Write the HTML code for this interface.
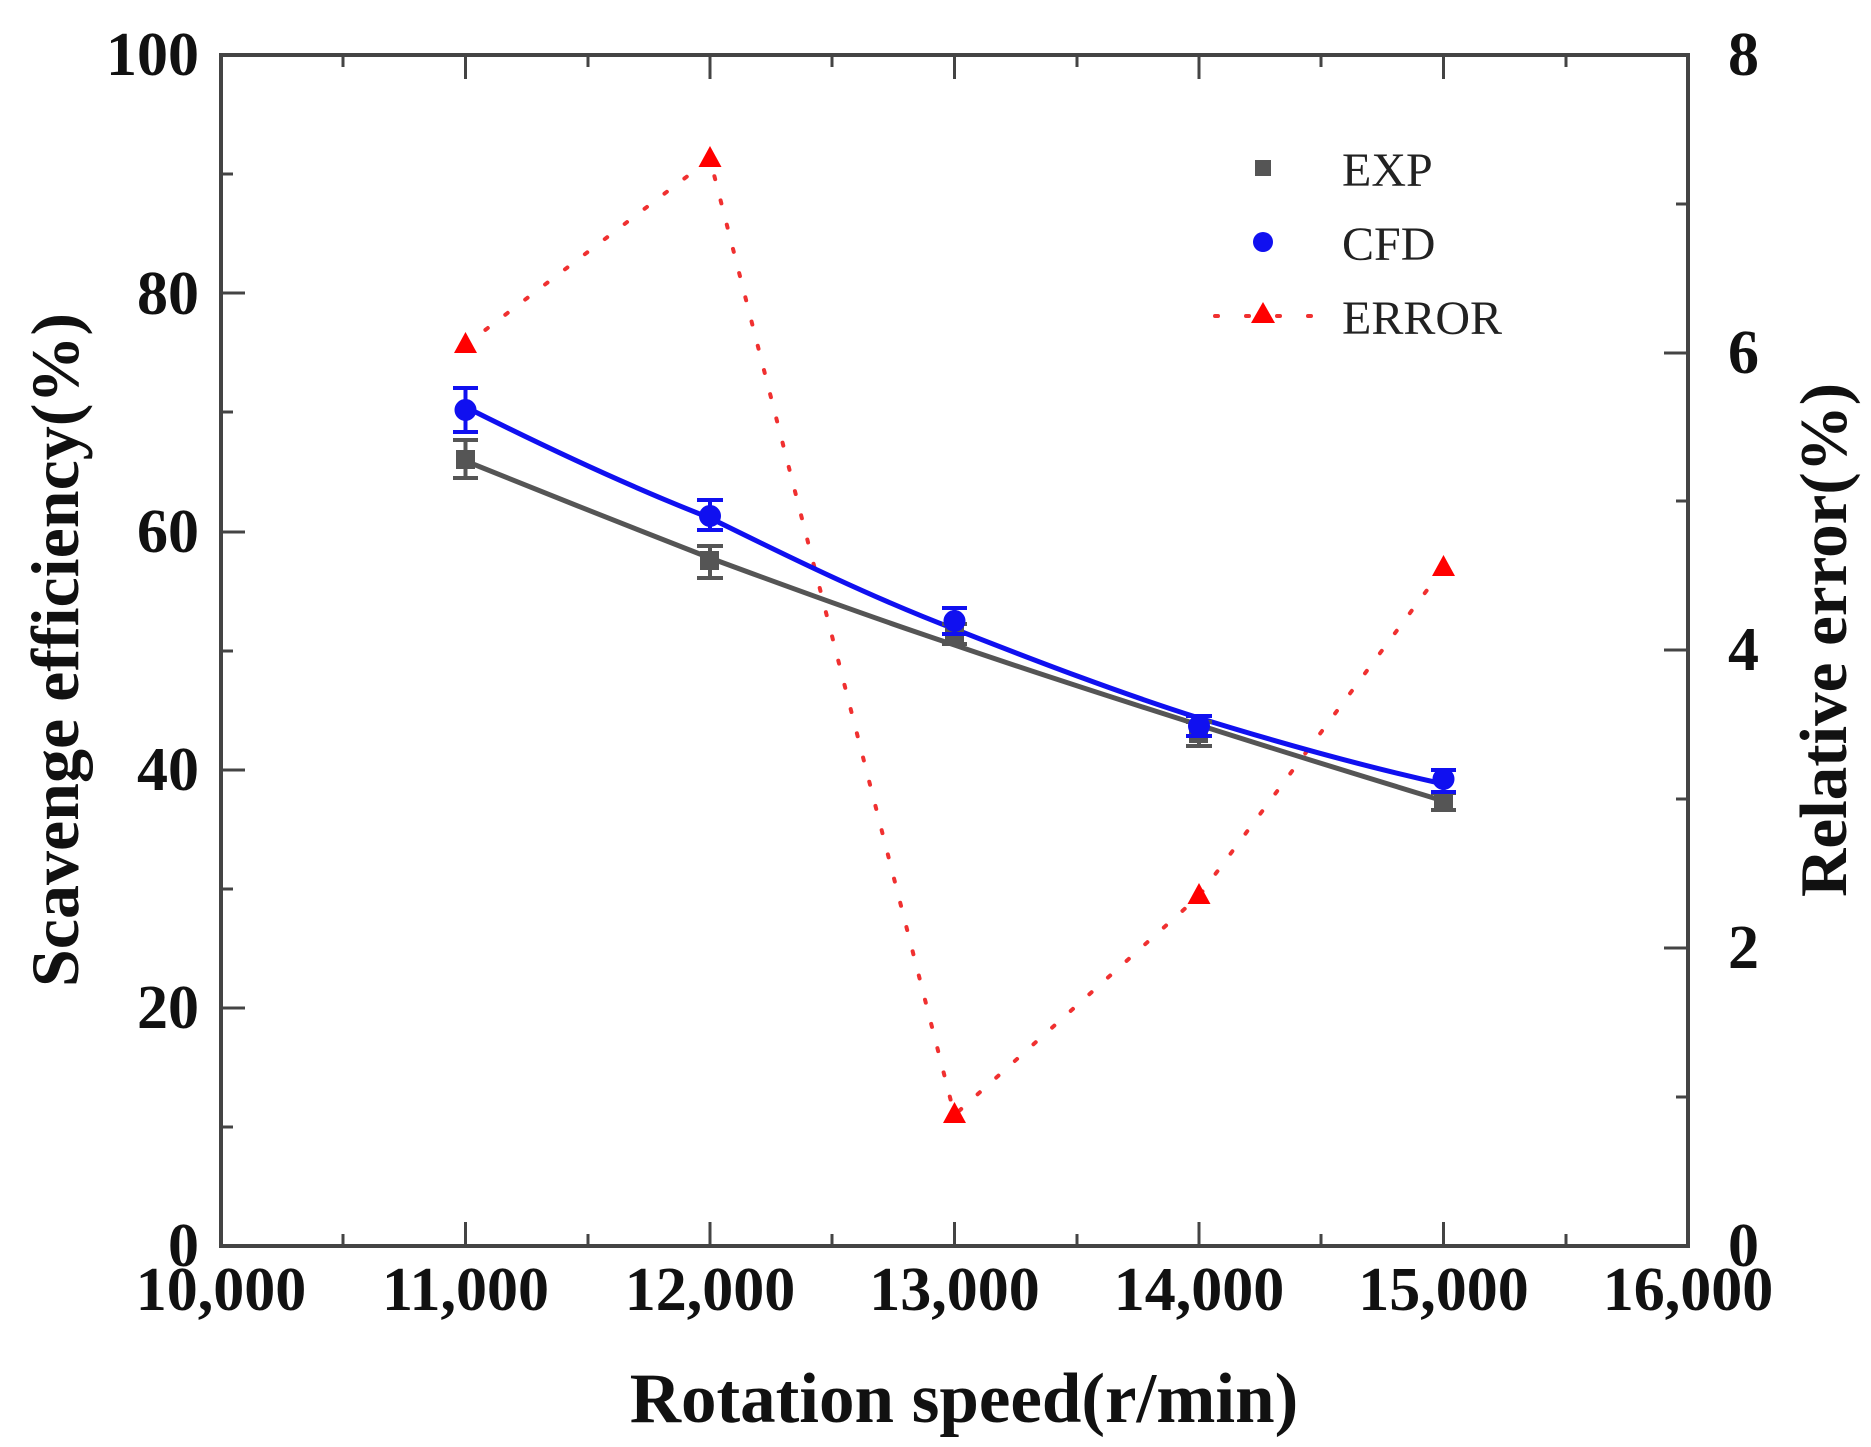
<!DOCTYPE html>
<html><head><meta charset="utf-8"><style>html,body{margin:0;padding:0;background:#fff}svg{display:block}</style></head>
<body>
<svg width="1871" height="1447" viewBox="0 0 1871 1447" xmlns="http://www.w3.org/2000/svg" font-family="'Liberation Serif', serif">
<rect width="1871" height="1447" fill="#fff"/>
<rect x="221" y="55" width="1467" height="1191" fill="none" stroke="#444" stroke-width="4"/>
<g stroke="#444" stroke-width="3">
<line x1="465.5" y1="1246" x2="465.5" y2="1222"/><line x1="710" y1="1246" x2="710" y2="1222"/><line x1="954.5" y1="1246" x2="954.5" y2="1222"/><line x1="1199" y1="1246" x2="1199" y2="1222"/><line x1="1443.5" y1="1246" x2="1443.5" y2="1222"/>
<line x1="343" y1="1246" x2="343" y2="1234"/><line x1="588" y1="1246" x2="588" y2="1234"/><line x1="832" y1="1246" x2="832" y2="1234"/><line x1="1077" y1="1246" x2="1077" y2="1234"/><line x1="1321" y1="1246" x2="1321" y2="1234"/><line x1="1566" y1="1246" x2="1566" y2="1234"/>
<line x1="465.5" y1="55" x2="465.5" y2="79"/><line x1="710" y1="55" x2="710" y2="79"/><line x1="954.5" y1="55" x2="954.5" y2="79"/><line x1="1199" y1="55" x2="1199" y2="79"/><line x1="1443.5" y1="55" x2="1443.5" y2="79"/>
<line x1="343" y1="55" x2="343" y2="67"/><line x1="588" y1="55" x2="588" y2="67"/><line x1="832" y1="55" x2="832" y2="67"/><line x1="1077" y1="55" x2="1077" y2="67"/><line x1="1321" y1="55" x2="1321" y2="67"/><line x1="1566" y1="55" x2="1566" y2="67"/>
<line x1="221" y1="1008" x2="245" y2="1008"/><line x1="221" y1="770" x2="245" y2="770"/><line x1="221" y1="532" x2="245" y2="532"/><line x1="221" y1="293" x2="245" y2="293"/>
<line x1="221" y1="1127" x2="233" y2="1127"/><line x1="221" y1="889" x2="233" y2="889"/><line x1="221" y1="651" x2="233" y2="651"/><line x1="221" y1="412" x2="233" y2="412"/><line x1="221" y1="174" x2="233" y2="174"/>
<line x1="1688" y1="948" x2="1664" y2="948"/><line x1="1688" y1="650" x2="1664" y2="650"/><line x1="1688" y1="353" x2="1664" y2="353"/>
<line x1="1688" y1="1097" x2="1676" y2="1097"/><line x1="1688" y1="799" x2="1676" y2="799"/><line x1="1688" y1="501" x2="1676" y2="501"/><line x1="1688" y1="204" x2="1676" y2="204"/>
</g>
<g font-size="62" font-weight="bold" fill="#111">
<g text-anchor="end">
<text x="199" y="1266">0</text><text x="199" y="1028">20</text><text x="199" y="790">40</text><text x="199" y="552">60</text><text x="199" y="314">80</text><text x="199" y="75">100</text>
</g>
<g text-anchor="start">
<text x="1728" y="1266">0</text><text x="1728" y="968">2</text><text x="1728" y="670">4</text><text x="1728" y="373">6</text><text x="1728" y="75">8</text>
</g>
<g text-anchor="middle">
<text x="221" y="1310">10,000</text><text x="465.5" y="1310">11,000</text><text x="710" y="1310">12,000</text><text x="954.5" y="1310">13,000</text><text x="1199" y="1310">14,000</text><text x="1443.5" y="1310">15,000</text><text x="1688" y="1310">16,000</text>
</g>
</g>
<g font-weight="bold" fill="#111" text-anchor="middle">
<text x="964" y="1422" font-size="71">Rotation speed(r/min)</text>
<text transform="translate(78,650) rotate(-90)" font-size="68">Scavenge efficiency(%)</text>
<text transform="translate(1846,640) rotate(-90)" font-size="67">Relative error(%)</text>
</g>
<polyline points="465.5,345 710,159 954.5,1115 1199,896 1443.5,568" fill="none" stroke="#f03030" stroke-width="4" stroke-dasharray="3,22" stroke-linecap="round"/>
<g fill="#f00">
<polygon points="465.5,332 477,353 454,353"/><polygon points="710,146 721.5,167 698.5,167"/><polygon points="954.5,1102 966,1123 943,1123"/><polygon points="1199,883 1210.5,904 1187.5,904"/><polygon points="1443.5,555 1455,576 1432,576"/>
</g>
<path d="M465.5,461 C547,494 628,526 710,558 C791,588 873,618 954.5,645 C1036,673 1117,699 1199,725 C1280,751 1362,776 1443.5,801" fill="none" stroke="#555" stroke-width="5"/>
<path d="M465.5,407 C547,448 628,486 710,518 C791,558 873,598 954.5,629 C1036,661 1117,692 1199,718 C1280,743 1362,766 1443.5,784" fill="none" stroke="#1010f0" stroke-width="5"/>
<g stroke="#555" stroke-width="4" fill="#555">
<line x1="465.5" y1="440" x2="465.5" y2="478"/><line x1="453" y1="440" x2="478" y2="440"/><line x1="453" y1="478" x2="478" y2="478"/>
<line x1="710" y1="546" x2="710" y2="578"/><line x1="697" y1="546" x2="723" y2="546"/><line x1="697" y1="578" x2="723" y2="578"/>
<line x1="954.5" y1="624" x2="954.5" y2="644"/><line x1="942" y1="624" x2="967" y2="624"/><line x1="942" y1="644" x2="967" y2="644"/>
<line x1="1199" y1="722" x2="1199" y2="746"/><line x1="1186" y1="722" x2="1212" y2="722"/><line x1="1186" y1="746" x2="1212" y2="746"/>
<line x1="1443.5" y1="793" x2="1443.5" y2="810"/><line x1="1431" y1="793" x2="1456" y2="793"/><line x1="1431" y1="810" x2="1456" y2="810"/>
<rect x="458" y="452" width="15" height="15"/><rect x="702" y="553" width="15" height="15"/><rect x="947" y="626" width="15" height="15"/><rect x="1191" y="726" width="15" height="15"/><rect x="1436" y="794" width="15" height="15"/>
</g>
<g stroke="#1010f0" stroke-width="4" fill="#1010f0">
<line x1="465.5" y1="388" x2="465.5" y2="432"/><line x1="453" y1="388" x2="478" y2="388"/><line x1="453" y1="432" x2="478" y2="432"/>
<line x1="710" y1="500" x2="710" y2="530"/><line x1="697" y1="500" x2="723" y2="500"/><line x1="697" y1="530" x2="723" y2="530"/>
<line x1="954.5" y1="608" x2="954.5" y2="634"/><line x1="942" y1="608" x2="967" y2="608"/><line x1="942" y1="634" x2="967" y2="634"/>
<line x1="1199" y1="716" x2="1199" y2="736"/><line x1="1186" y1="716" x2="1212" y2="716"/><line x1="1186" y1="736" x2="1212" y2="736"/>
<line x1="1443.5" y1="770" x2="1443.5" y2="792"/><line x1="1431" y1="770" x2="1456" y2="770"/><line x1="1431" y1="792" x2="1456" y2="792"/>
<circle cx="465.5" cy="410" r="9"/><circle cx="710" cy="516" r="9"/><circle cx="954.5" cy="621" r="9"/><circle cx="1199" cy="726" r="9"/><circle cx="1443.5" cy="779" r="9"/>
</g>
<rect x="1255" y="160" width="16" height="16" fill="#555"/>
<circle cx="1263" cy="242" r="10" fill="#1010f0"/>
<line x1="1215" y1="316" x2="1315" y2="316" stroke="#f03030" stroke-width="4" stroke-dasharray="3,28" stroke-linecap="round"/>
<polygon points="1263,302 1275,323 1251,323" fill="#f00"/>
<g font-size="48" fill="#222">
<text x="1342" y="186">EXP</text><text x="1342" y="260">CFD</text><text x="1342" y="334">ERROR</text>
</g>
</svg>
</body></html>
